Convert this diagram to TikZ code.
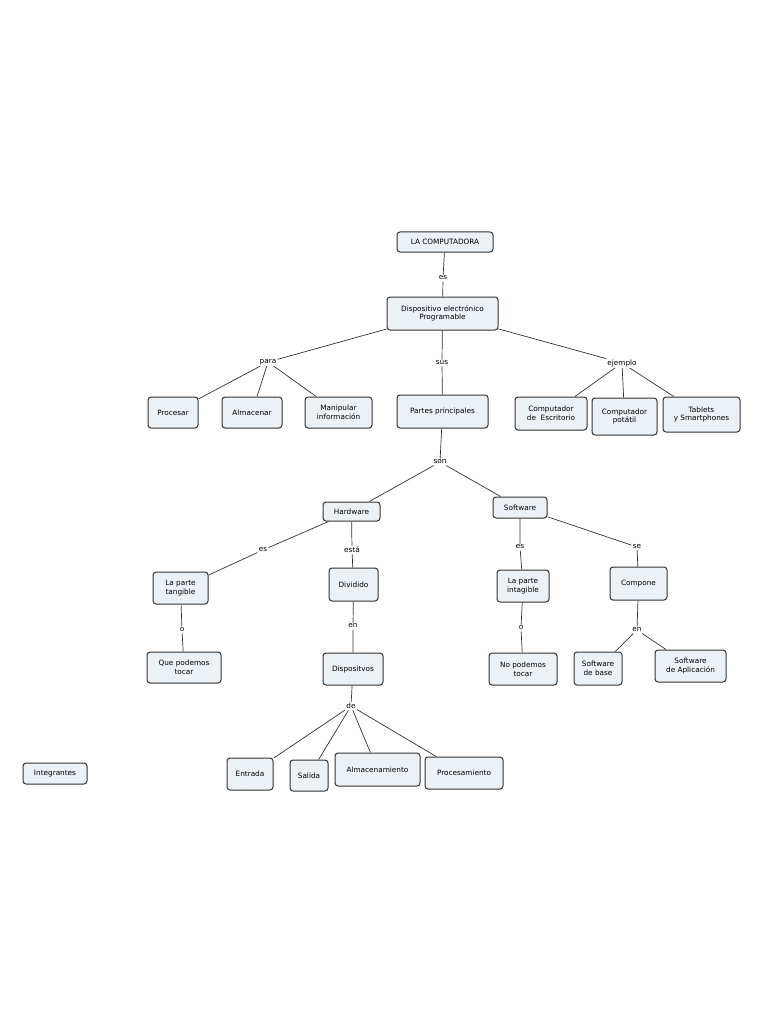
\documentclass[tikz,border=0pt]{standalone}
\usepackage{fontspec}
\setmainfont{DejaVu Sans}
\definecolor{boxfill}{HTML}{EBF1F4}
\definecolor{boxline}{HTML}{333333}
\begin{document}
\begin{tikzpicture}[x=1pt,y=-1pt,
  box/.style={draw=boxline, line width=1pt, fill=boxfill, rounded corners=3pt, align=center, font=\fontsize{7.3}{8.6}\selectfont, inner sep=1pt},
  lbl/.style={font=\fontsize{7.3}{8.6}\selectfont, inner sep=1.2pt, fill=white},
  ln/.style={draw=boxline, line width=0.7pt}]
\fill[white] (0,0) rectangle (768,1024);
\useasboundingbox (0,0) rectangle (768,1024);
\newcommand\bx[6]{\node[box, minimum width=#4-#2, minimum height=#5-#3] (#1) at ({(#2+#4)/2},{(#3+#5)/2}) {#6};}
\bx{comp}{397}{232}{493}{252}{LA COMPUTADORA}
\bx{disp}{387}{297}{498}{330}{Dispositivo electrónico\\Programable}
\bx{proc}{148}{397}{198}{428}{Procesar}
\bx{alm}{222}{397}{282}{428}{Almacenar}
\bx{man}{305}{397}{372}{428}{Manipular\\información}
\bx{part}{397}{395}{488}{428}{Partes principales}
\bx{esc}{515}{397}{587}{430}{Computador\\de\ \ Escritorio}
\bx{pot}{592}{398}{657}{435}{Computador\\potátil}
\bx{tab}{663}{397}{740}{432}{Tablets\\y Smartphones}
\bx{hw}{323}{502}{380}{521}{Hardware}
\bx{sw}{493}{497}{547}{518}{Software}
\bx{tang}{153}{572}{208}{604}{La parte\\tangible}
\bx{div}{329}{568}{378}{601}{Dividido}
\bx{intg}{497}{570}{549}{602}{La parte\\intagible}
\bx{compo}{610}{567}{667}{600}{Compone}
\bx{que}{147}{652}{221}{683}{Que podemos\\tocar}
\bx{dsp}{323}{653}{383}{685}{Dispositvos}
\bx{nop}{489}{653}{557}{685}{No podemos\\tocar}
\bx{swb}{574}{652}{622}{685}{Software\\de base}
\bx{swa}{655}{650}{726}{682}{Software\\de Aplicación}
\bx{ent}{227}{758}{273}{790}{Entrada}
\bx{sal}{290}{760}{328}{791}{Salida}
\bx{almc}{335}{753}{420}{786}{Almacenamiento}
\bx{prc}{425}{757}{503}{789}{Procesamiento}
\bx{int}{23}{763}{87}{784}{Integrantes}
\node[lbl] (l1) at (443,278) {es};
\node[lbl] (l2) at (268,362) {para};
\node[lbl] (l3) at (442,363) {sus};
\node[lbl] (l4) at (622,363) {ejemplo};
\node[lbl] (l5) at (440,462) {son};
\node[lbl] (l6) at (263,550) {es};
\node[lbl] (l7) at (352,550) {está};
\node[lbl] (l8) at (520,547) {es};
\node[lbl] (l9) at (637,547) {se};
\node[lbl] (l10) at (182,630) {o};
\node[lbl] (l11) at (353,626) {en};
\node[lbl] (l12) at (521,628) {o};
\node[lbl] (l13) at (637,630) {en};
\node[lbl] (l14) at (351,706) {de};
\begin{scope}[on background layer/.try]
\end{scope}
\path[ln] (comp) -- (l1) -- (disp);
\path[ln] (disp) -- (l2);
\path[ln] (l2) -- (proc); \path[ln] (l2) -- (alm); \path[ln] (l2) -- (man);
\path[ln] (disp) -- (l3) -- (part);
\path[ln] (disp) -- (l4);
\path[ln] (l4) -- (esc); \path[ln] (l4) -- (pot); \path[ln] (l4) -- (tab);
\path[ln] (part) -- (l5); \path[ln] (l5) -- (hw); \path[ln] (l5) -- (sw);
\path[ln] (hw) -- (l6) -- (tang);
\path[ln] (hw) -- (l7) -- (div);
\path[ln] (sw) -- (l8) -- (intg);
\path[ln] (sw) -- (l9) -- (compo);
\path[ln] (tang) -- (l10) -- (que);
\path[ln] (div) -- (l11) -- (dsp);
\path[ln] (intg) -- (l12) -- (nop);
\path[ln] (compo) -- (l13); \path[ln] (l13) -- (swb); \path[ln] (l13) -- (swa);
\path[ln] (dsp) -- (l14);
\path[ln] (l14) -- (ent); \path[ln] (l14) -- (sal); \path[ln] (l14) -- (almc); \path[ln] (l14) -- (prc);
\end{tikzpicture}
\end{document}
